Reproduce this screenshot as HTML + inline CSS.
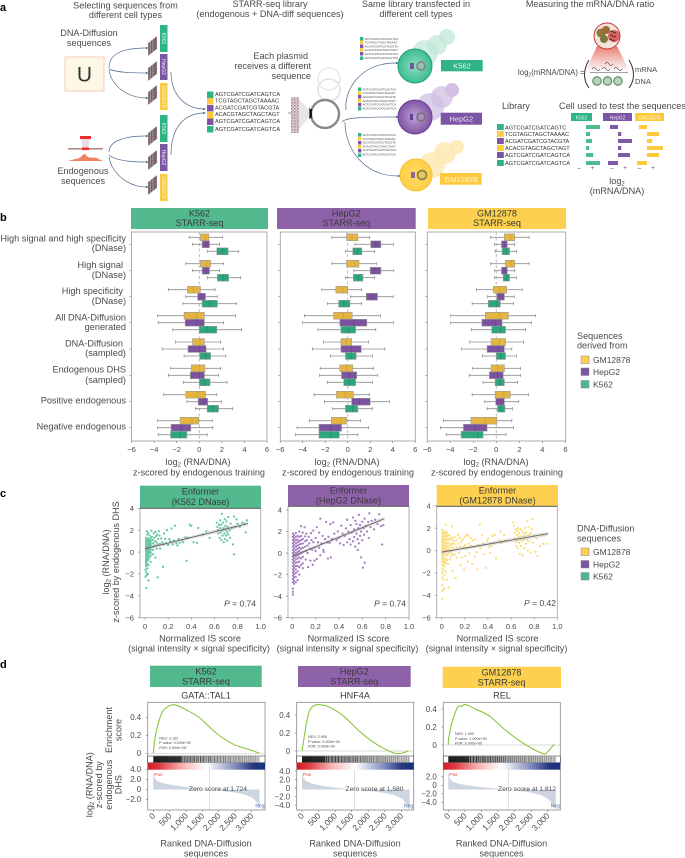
<!DOCTYPE html>
<html lang="en">
<head>
<meta charset="utf-8">
<title>DNA-Diffusion STARR-seq figure</title>
<style>
html,body{margin:0;padding:0;background:#fff;}
svg{display:block;font-family:"Liberation Sans",sans-serif;}
text{fill:#4a4a4a;}
.t9{font-size:9.1px;}
.t8{font-size:9.1px;}
.lg{font-size:8.5px;}
.mid{text-anchor:middle;}
.end{text-anchor:end;}
.seq{font-size:5.6px;fill:#333;}
.mini{font-size:2.9px;fill:#444;}
.cap{font-size:9.1px;fill:#3a3a3a;text-anchor:middle;}
.panel{font-size:11px;font-weight:bold;fill:#000;}
.vert{font-size:5px;fill:#e8f3ee;text-anchor:middle;}
</style>
</head>
<body>
<svg id="figure" width="685" height="858" viewBox="0 0 685 858" xmlns="http://www.w3.org/2000/svg">
<defs>
<pattern id="tile" width="2.6" height="2.6" patternUnits="userSpaceOnUse"><rect width="2.6" height="2.6" fill="#666"/><rect x="0.3" y="0.3" width="1" height="1" fill="#b5404a"/><rect x="1.6" y="1.5" width="0.8" height="0.8" fill="#999"/></pattern>
<pattern id="tile2" width="3" height="3" patternUnits="userSpaceOnUse"><rect width="3" height="3" fill="#ddd"/><rect x="0.2" y="0.2" width="1.2" height="1.2" fill="#b5404a"/><rect x="1.6" y="1.6" width="1.1" height="1.1" fill="#888"/></pattern>
<g id="seq-stack">
<polygon points="-5,-3 -1,-6 -1,7 -5,10" fill="url(#tile)" stroke="#fff" stroke-width="0.3"/>
<polygon points="-2.5,-5 1.5,-8 1.5,5 -2.5,8" fill="url(#tile)" stroke="#fff" stroke-width="0.3"/>
<polygon points="0,-7 4,-10 4,3 0,6" fill="url(#tile)" stroke="#fff" stroke-width="0.3"/>
</g>
<linearGradient id="cone" x1="0" y1="0" x2="0" y2="1"><stop offset="0" stop-color="#e2604f"/><stop offset="1" stop-color="#fff"/></linearGradient>
<linearGradient id="rankbar" x1="0" y1="0" x2="1" y2="0"><stop offset="0" stop-color="#d01c2a"/><stop offset="0.1" stop-color="#e03a40"/><stop offset="0.3" stop-color="#f6b5b5"/><stop offset="0.5" stop-color="#fff"/><stop offset="0.75" stop-color="#8089bd"/><stop offset="0.9" stop-color="#27367f"/><stop offset="1" stop-color="#17317f"/></linearGradient>
<linearGradient id="barcode" x1="0" y1="0" x2="1" y2="0"><stop offset="0" stop-color="#1c1c1c"/><stop offset="0.3" stop-color="#333"/><stop offset="0.6" stop-color="#7a7a7a"/><stop offset="1" stop-color="#a8a8a8"/></linearGradient>
<radialGradient id="cellG"><stop offset="0" stop-color="#8fdcc0"/><stop offset="1" stop-color="#3dbd92"/></radialGradient>
<radialGradient id="cellP"><stop offset="0" stop-color="#c0a2d8"/><stop offset="1" stop-color="#7f55a5"/></radialGradient>
<radialGradient id="cellY"><stop offset="0" stop-color="#ffd964"/><stop offset="1" stop-color="#ffcf47"/></radialGradient>
</defs>

<!-- PANEL A -->
<g>
<text class="panel" x="0" y="11">a</text>
<text class="t9 mid" x="125.5" y="8.5">Selecting sequences from</text>
<text class="t9 mid" x="125.5" y="18">different cell types</text>
<text class="t9 mid" x="270" y="7">STARR-seq library</text>
<text class="t9 mid" x="270" y="17">(endogenous + DNA-diff sequences)</text>
<text class="t9 mid" x="416" y="7">Same library transfected in</text>
<text class="t9 mid" x="416" y="17">different cell types</text>
<text class="t9 mid" x="590" y="7">Measuring the mRNA/DNA ratio</text>

<text class="t9 mid" x="89" y="36">DNA-Diffusion</text>
<text class="t9 mid" x="89" y="46">sequences</text>
<rect x="65" y="57" width="39" height="34" fill="#fdf7e6" stroke="#f6cdb8"/>
<text x="84.5" y="81.5" text-anchor="middle" style="font-size:21px;fill:#333">U</text>

<g>
<rect x="80" y="136" width="11" height="3" fill="#ee2a2a"/>
<polygon points="81,139 90,139 88.5,148 82.5,148" fill="#e6dfe8"/>
<rect x="68" y="148" width="35" height="1.6" fill="#b08a80"/>
<rect x="82" y="147.5" width="7" height="2.6" fill="#ee3030"/>
<path d="M68,161 C74,159 78,159 81,157 C83,154 85,153 86,155 C88,159 94,157 97,158 C99,160 102,160 103,161 Z" fill="#f0825f"/>
</g>
<text class="t9 mid" x="83" y="174">Endogenous</text>
<text class="t9 mid" x="83" y="184">sequences</text>

<g fill="none" stroke="#50688a" stroke-width="0.7">
<path d="M109,68 C109,55 120,48 146,48"/><path d="M109,69 C115,72 130,73 146,73"/><path d="M109,70 C112,88 130,98 146,98"/>
<path d="M109,152 C109,142 122,136 146,136"/><path d="M109,155 C115,160 130,162 146,162"/><path d="M109,157 C112,175 130,187 146,187"/>
<path d="M171,72 C171,95 185,109 205,109"/><path d="M171,155 C171,130 182,113 205,113"/>
<path d="M288,113 L298,113"/>
<path d="M346,110 C344,90 360,63 396,63"/><path d="M342,122 C345,117 370,117 396,117"/><path d="M345,122 C345,150 365,176 398,176"/>
</g>
<g fill="#50688a">
<polygon points="146,46.8 146,49.2 149,48"/><polygon points="146,71.8 146,74.2 149,73"/><polygon points="146,96.8 146,99.2 149,98"/>
<polygon points="146,134.8 146,137.2 149,136"/><polygon points="146,160.8 146,163.2 149,162"/><polygon points="146,185.8 146,188.2 149,187"/>
<polygon points="203,107.8 203,110.2 206,109"/><polygon points="203,111.8 203,114.2 206,113"/>
<polygon points="396,61.8 396,64.2 399,63"/><polygon points="396,115.8 396,118.2 399,117"/><polygon points="398,174.8 398,177.2 401,176"/>
</g>
<use href="#seq-stack" x="153" y="46"/>
<use href="#seq-stack" x="153" y="71"/>
<use href="#seq-stack" x="153" y="95"/>
<use href="#seq-stack" x="153" y="136"/>
<use href="#seq-stack" x="153" y="160"/>
<use href="#seq-stack" x="153" y="185"/>
<rect x="160" y="25" width="7.5" height="27" fill="#2fb585"/>
<rect x="160" y="54" width="7.5" height="26" fill="#7d55a5"/>
<rect x="160" y="83" width="7.5" height="27" fill="#fdc93f"/>
<rect x="160" y="115" width="7.5" height="27" fill="#2fb585"/>
<rect x="160" y="144" width="7.5" height="27" fill="#7d55a5"/>
<rect x="160" y="174" width="7.5" height="27" fill="#fdc93f"/>
<text class="vert" transform="translate(162,38.5) rotate(90)">K562</text>
<text class="vert" transform="translate(162,67) rotate(90)">HepG2</text>
<text class="vert" transform="translate(162,96.5) rotate(90)">GM12878</text>
<text class="vert" transform="translate(162,128.5) rotate(90)">K562</text>
<text class="vert" transform="translate(162,157.5) rotate(90)">HepG2</text>
<text class="vert" transform="translate(162,187.5) rotate(90)">GM12878</text>

<g>
<rect x="207" y="91.5" width="6.5" height="6.5" fill="#2fb585"/><rect x="207" y="98" width="6.5" height="6.5" fill="#fdc93f"/><rect x="207" y="105" width="6.5" height="6.5" fill="#7d55a5"/><rect x="207" y="112" width="6.5" height="6.5" fill="#fdc93f"/><rect x="207" y="118.5" width="6.5" height="6.5" fill="#7d55a5"/><rect x="207" y="126" width="6.5" height="6.5" fill="#2fb585"/>
<text class="seq" x="215" y="96">AGTCGATCGATCAGTCA</text>
<text class="seq" x="215" y="102.5">TCGTAGCTAGCTAAAAC</text>
<text class="seq" x="215" y="109.5">ACGATCGATCGTACGTA</text>
<text class="seq" x="215" y="116">ACACGTAGCTAGCTAGT</text>
<text class="seq" x="215" y="123">AGTCGATCGATCAGTCA</text>
<text class="seq" x="215" y="131">AGTCGATCGATCAGTCA</text>
</g>
<text class="t9 end" x="308" y="59">Each plasmid</text>
<text class="t9 end" x="311" y="69">receives a different</text>
<text class="t9 end" x="311" y="79">sequence</text>
<g>
<polygon points="298,98 298,130 311,115 311,112" fill="#e6e6e6"/>
<rect x="291" y="97" width="8" height="36" fill="url(#tile2)"/>
<circle cx="329" cy="90" r="11" fill="none" stroke="#e4e4e4" stroke-width="1.8"/>
<circle cx="329" cy="79" r="11" fill="none" stroke="#ececec" stroke-width="1.8"/>
<circle cx="325" cy="114" r="14" fill="#fff" stroke="#8a8a8a" stroke-width="2.4"/>
<rect x="309.5" y="109" width="2.4" height="9" fill="#111"/>
<rect x="309" y="108" width="1" height="11" fill="#d23838"/>
</g>

<g>
<circle cx="447" cy="37" r="8" fill="#bfe7d6" opacity=".75"/><circle cx="437" cy="45" r="10" fill="#bfe7d6" opacity=".7"/><circle cx="425" cy="53" r="13" fill="#bfe7d6" opacity=".7"/>
<circle cx="415" cy="66" r="17" fill="url(#cellG)" stroke="#1d9e70" stroke-width="1"/>
<rect x="410" y="63" width="4" height="6" fill="#6d5a96"/><circle cx="421" cy="66" r="4" fill="#8cc7ac" stroke="#888" stroke-width="1.8"/>
</g>
<g>
<circle cx="452" cy="90" r="7" fill="#c7b1dc" opacity=".8"/><circle cx="442" cy="97" r="11" fill="#d0bfe2" opacity=".75"/><circle cx="430" cy="107" r="14" fill="#d0bfe2" opacity=".75"/>
<circle cx="415" cy="117" r="17" fill="url(#cellP)" stroke="#6a3f94" stroke-width="1"/>
<rect x="410" y="114" width="3" height="6" fill="#5c4290"/><circle cx="421" cy="117" r="4" fill="#a98cc4" stroke="#777" stroke-width="1.8"/>
</g>
<g>
<circle cx="457" cy="147" r="7" fill="#fde9ae" opacity=".85"/><circle cx="445" cy="153" r="11" fill="#fde9ae" opacity=".8"/><circle cx="432" cy="165" r="13" fill="#fde9ae" opacity=".8"/>
<circle cx="416" cy="175" r="16" fill="url(#cellY)" stroke="#f3bf2e" stroke-width="1"/>
<rect x="411" y="172" width="4" height="6" fill="#8a6a9a"/><circle cx="422" cy="175" r="4.5" fill="#e8c860" stroke="#8f8350" stroke-width="1.8"/>
</g>
<rect x="441" y="60" width="41.7" height="11.3" fill="#2fb585"/>
<text class="mid" x="462" y="68.5" style="font-size:7.5px;fill:#e9f6f0">K562</text>
<rect x="440.7" y="112.7" width="41.3" height="12" fill="#7d55a5"/>
<text class="mid" x="461.3" y="121.5" style="font-size:7.5px;fill:#eee6f5">HepG2</text>
<rect x="440" y="173" width="41.7" height="11.7" fill="#fdc93f"/>
<text class="mid" x="461" y="181.8" style="font-size:7.5px;fill:#fff5d4">GM12878</text>

<g>
<rect x="360" y="37" width="3.3" height="3.5" fill="#2fb585"/><rect x="360" y="40.5" width="3.3" height="3.5" fill="#fdc93f"/><rect x="360" y="44.5" width="3.3" height="3.5" fill="#7d55a5"/><rect x="360" y="48" width="3.3" height="3.5" fill="#fdc93f"/><rect x="360" y="52" width="3.3" height="3.5" fill="#7d55a5"/><rect x="360" y="56.5" width="3.3" height="3.5" fill="#2fb585"/>
<text class="mini" x="364.5" y="39.8">AGTCGATCGATCAGTCA</text><text class="mini" x="364.5" y="43.6">TCGTAGCTAGCTAAAAC</text><text class="mini" x="364.5" y="47.4">ACGATCGATCGTACGTA</text><text class="mini" x="364.5" y="51.2">ACACGTAGCTAGCTAGT</text><text class="mini" x="364.5" y="55">AGTCGATCGATCAGTCA</text><text class="mini" x="364.5" y="59.2">AGTCGATCGATCAGTCA</text>
</g>
<g>
<rect x="358" y="87.5" width="3.3" height="3.5" fill="#2fb585"/><rect x="358" y="91.5" width="3.3" height="3.5" fill="#fdc93f"/><rect x="358" y="95" width="3.3" height="3.5" fill="#7d55a5"/><rect x="358" y="99" width="3.3" height="3.5" fill="#fdc93f"/><rect x="358" y="103" width="3.3" height="3.5" fill="#7d55a5"/><rect x="358" y="107" width="3.3" height="3.5" fill="#2fb585"/>
<text class="mini" x="362.5" y="90.4">AGTCGATCGATCAGTCA</text><text class="mini" x="362.5" y="94.2">TCGTAGCTAGCTAAAAC</text><text class="mini" x="362.5" y="98">ACGATCGATCGTACGTA</text><text class="mini" x="362.5" y="101.8">ACACGTAGCTAGCTAGT</text><text class="mini" x="362.5" y="105.6">AGTCGATCGATCAGTCA</text><text class="mini" x="362.5" y="109.6">AGTCGATCGATCAGTCA</text>
</g>
<g>
<rect x="358" y="133" width="3.3" height="3.5" fill="#2fb585"/><rect x="358" y="137" width="3.3" height="3.5" fill="#fdc93f"/><rect x="358" y="141" width="3.3" height="3.5" fill="#7d55a5"/><rect x="358" y="145" width="3.3" height="3.5" fill="#fdc93f"/><rect x="358" y="149" width="3.3" height="3.5" fill="#7d55a5"/><rect x="358" y="153.5" width="3.3" height="3.5" fill="#2fb585"/>
<text class="mini" x="362.5" y="136">AGTCGATCGATCAGTCA</text><text class="mini" x="362.5" y="139.8">TCGTAGCTAGCTAAAAC</text><text class="mini" x="362.5" y="143.6">ACGATCGATCGTACGTA</text><text class="mini" x="362.5" y="147.4">ACACGTAGCTAGCTAGT</text><text class="mini" x="362.5" y="151.2">AGTCGATCGATCAGTCA</text><text class="mini" x="362.5" y="155.4">AGTCGATCGATCAGTCA</text>
</g>

<g>
<polygon points="597,46 617,46 630,72 585,72" fill="url(#cone)" opacity=".8"/>
<circle cx="607" cy="36" r="13" fill="#f3e3d8" stroke="#c8353d" stroke-width="1"/>
<circle cx="601" cy="33" r="4.5" fill="#8a7a3e"/><circle cx="606" cy="30" r="4" fill="#a06a38"/><circle cx="604" cy="39" r="4" fill="#80763e"/>
<circle cx="614" cy="36" r="6" fill="#d03a3a" opacity=".75"/>
<path d="M610,32 q2,-2 3,0 t3,0 M610,36 q2,-2 3,0 t3,0 M609,40 q2,-2 3,0 t3,0" fill="none" stroke="#222" stroke-width=".7"/>
<path d="M589,60 C583,70 583,80 589,88 M629,60 C635,70 635,80 629,88" fill="none" stroke="#333" stroke-width="1"/>
<line x1="590" y1="72.5" x2="628" y2="72.5" stroke="#444" stroke-width=".6"/>
<path d="M592,69 q2,-3 4,0 t4,0 M602,69 q2,-3 4,0 t4,0 M614,69 q2,-3 4,0 t4,0 M605,64 q2,-3 4,0 t4,0" fill="none" stroke="#333" stroke-width=".6"/>
<circle cx="597" cy="81" r="4.2" fill="#b6d4b8" stroke="#6f8f78" stroke-width="1.3"/><circle cx="607.5" cy="81" r="4.2" fill="#b6d4b8" stroke="#6f8f78" stroke-width="1.3"/><circle cx="618" cy="81" r="4.2" fill="#b6d4b8" stroke="#6f8f78" stroke-width="1.3"/>
</g>
<text x="518" y="75" style="font-size:7.8px">log<tspan font-size="5" dy="1.5">2</tspan><tspan dy="-1.5">(mRNA/DNA) =</tspan></text>
<text x="635" y="72" style="font-size:7.5px">mRNA</text>
<text x="635" y="84" style="font-size:7.5px">DNA</text>
<text class="t9" x="502" y="109">Library</text>
<text class="t9" x="559" y="109">Cell used to test the sequences</text>
<rect x="571" y="113" width="21" height="8" fill="#2fb585"/>
<rect x="603" y="113" width="29" height="8" fill="#7d55a5"/>
<rect x="635" y="113" width="29" height="8" fill="#fdc93f"/>
<text class="mid" x="581.5" y="119.5" style="font-size:5px;fill:#e4f5ee">K562</text>
<text class="mid" x="617.5" y="119.5" style="font-size:5px;fill:#eee6f5">HepG2</text>
<text class="mid" x="649.5" y="119.5" style="font-size:5px;fill:#fff3cc">GM12878</text>
<g>
<rect x="497" y="124" width="6.8" height="6" fill="#2fb585"/><rect x="497" y="131" width="6.8" height="6" fill="#fdc93f"/><rect x="497" y="138" width="6.8" height="6" fill="#7d55a5"/><rect x="497" y="145" width="6.8" height="6" fill="#fdc93f"/><rect x="497" y="152" width="6.8" height="6" fill="#7d55a5"/><rect x="497" y="160" width="6.8" height="6" fill="#2fb585"/>
<text class="seq" x="505" y="129.5">AGTCGATCGATCAGTC</text>
<text class="seq" x="505" y="136">TCGTAGCTAGCTAAAAC</text>
<text class="seq" x="505" y="143">ACGATCGATCGTACGTA</text>
<text class="seq" x="505" y="150">ACACGTAGCTAGCTAGT</text>
<text class="seq" x="505" y="157">AGTCGATCGATCAGTCA</text>
<text class="seq" x="505" y="165">AGTCGATCGATCAGTCA</text>
</g>
<g id="mini-bars"></g>
<text class="mid" x="579" y="170" style="font-size:6px">–</text><text class="mid" x="592.5" y="170" style="font-size:6px">+</text>
<text class="mid" x="612" y="170" style="font-size:6px">–</text><text class="mid" x="625" y="170" style="font-size:6px">+</text>
<text class="mid" x="639.5" y="170" style="font-size:6px">–</text><text class="mid" x="653" y="170" style="font-size:6px">+</text>
<text class="t9 mid" x="617" y="184">log<tspan font-size="6" dy="1.5">2</tspan></text>
<text class="t9 mid" x="617" y="194">(mRNA/DNA)</text>
</g>

<!-- PANEL B static -->
<g>
<text class="panel" x="0" y="221">b</text>
<rect x="131" y="208" width="137" height="21" fill="#52b98f"/>
<rect x="277" y="208" width="138.7" height="21" fill="#8e62a9"/>
<rect x="428" y="208" width="138" height="21" fill="#fdd04f"/>
<text class="cap" x="199.5" y="216.5">K562</text><text class="cap" x="199.5" y="226">STARR-seq</text>
<text class="cap" x="346.3" y="216.5">HepG2</text><text class="cap" x="346.3" y="226">STARR-seq</text>
<text class="cap" x="497" y="216.5">GM12878</text><text class="cap" x="497" y="226">STARR-seq</text>
<g class="t8" text-anchor="end" style="font-size:9.2px">
<text x="126" y="241.7">High signal and high specificity</text><text x="126" y="251">(DNase)</text>
<text x="123" y="268">High signal</text><text x="126" y="278">(DNase)</text>
<text x="123" y="294">High specificity</text><text x="126" y="304">(DNase)</text>
<text x="126" y="320.3">All DNA-Diffusion</text><text x="126" y="330">generated</text>
<text x="123" y="346.7">DNA-Diffusion</text><text x="126" y="356">(sampled)</text>
<text x="126" y="372.7">Endogenous DHS</text><text x="126" y="383">(sampled)</text>
<text x="126" y="403.7">Positive endogenous</text>
<text x="126" y="429.7">Negative endogenous</text>
</g>
<g id="box-plots"></g>
<g class="cap">
<text x="198" y="465">log<tspan font-size="6" dy="1.5">2</tspan><tspan dy="-1.5"> (RNA/DNA)</tspan></text><text x="199" y="475.5">z-scored by endogenous training</text>
<text x="347" y="465">log<tspan font-size="6" dy="1.5">2</tspan><tspan dy="-1.5"> (RNA/DNA)</tspan></text><text x="348" y="475.5">z-scored by endogenous training</text>
<text x="496" y="465">log<tspan font-size="6" dy="1.5">2</tspan><tspan dy="-1.5"> (RNA/DNA)</tspan></text><text x="497" y="475.5">z-scored by endogenous training</text>
</g>
<text class="t8" x="577" y="339">Sequences</text>
<text class="t8" x="577" y="348.5">derived from</text>
<rect x="581" y="356" width="8" height="7.5" fill="#fdd04f" stroke="#888" stroke-width=".5"/>
<rect x="581" y="368" width="8" height="7.5" fill="#7f55a5" stroke="#888" stroke-width=".5"/>
<rect x="581" y="380.5" width="8" height="7.5" fill="#4db88c" stroke="#888" stroke-width=".5"/>
<text class="lg" x="593" y="362.8">GM12878</text>
<text class="lg" x="593" y="375">HepG2</text>
<text class="lg" x="593" y="387.3">K562</text>
</g>

<!-- PANEL C static -->
<g>
<text class="panel" x="0" y="497">c</text>
<rect x="140" y="485.7" width="121" height="22.6" fill="#52b98f"/>
<rect x="288" y="485" width="121" height="21.3" fill="#8e62a9"/>
<rect x="436.7" y="485" width="121.3" height="21.3" fill="#fdd04f"/>
<text class="cap" x="200.5" y="494.5">Enformer</text><text class="cap" x="200.5" y="505">(K562 DNase)</text>
<text class="cap" x="348.5" y="493.5">Enformer</text><text class="cap" x="348.5" y="503.5">(HepG2 DNase)</text>
<text class="cap" x="497.5" y="493.5">Enformer</text><text class="cap" x="497.5" y="503.5">(GM12878 DNase)</text>
<g id="scatters"></g>
<text class="t8 mid" transform="translate(109,562) rotate(-90)">log<tspan font-size="6" dy="1.5">2</tspan><tspan dy="-1.5"> (RNA/DNA)</tspan></text>
<text class="t8 mid" transform="translate(119,562) rotate(-90)">z-scored by endogenous DHS</text>
<g class="cap">
<text x="200" y="641.7">Normalized IS score</text><text x="199" y="651.7">(signal intensity × signal specificity)</text>
<text x="348.5" y="641.7">Normalized IS score</text><text x="347.5" y="651.7">(signal intensity × signal specificity)</text>
<text x="497.5" y="641.7">Normalized IS score</text><text x="496.5" y="651.7">(signal intensity × signal specificity)</text>
</g>
<text class="lg end" x="256" y="606.7"><tspan font-style="italic">P</tspan> = 0.74</text>
<text class="lg end" x="406" y="606.7"><tspan font-style="italic">P</tspan> = 0.74</text>
<text class="lg end" x="556" y="606"><tspan font-style="italic">P</tspan> = 0.42</text>
<text class="t8" x="577" y="531.7">DNA-Diffusion</text>
<text class="t8" x="577" y="541.7">sequences</text>
<rect x="581" y="548" width="8" height="7.5" fill="#fdd04f" stroke="#888" stroke-width=".5"/>
<rect x="581" y="560.5" width="8" height="7.5" fill="#7f55a5" stroke="#888" stroke-width=".5"/>
<rect x="581" y="572.5" width="8" height="7.5" fill="#4db88c" stroke="#888" stroke-width=".5"/>
<text class="lg" x="593" y="555">GM12878</text>
<text class="lg" x="593" y="567.3">HepG2</text>
<text class="lg" x="593" y="579.3">K562</text>
</g>

<!-- PANEL D static -->
<g>
<text class="panel" x="0" y="668">d</text>
<rect x="150" y="665.7" width="111.7" height="21.3" fill="#52b98f"/>
<rect x="298" y="666" width="112.7" height="21" fill="#8e62a9"/>
<rect x="442.7" y="666.7" width="118.3" height="21.3" fill="#fdd04f"/>
<text class="cap" x="206" y="674.5">K562</text><text class="cap" x="206" y="684.5">STARR-seq</text>
<text class="cap" x="354.3" y="674.5">HepG2</text><text class="cap" x="354.3" y="684.5">STARR-seq</text>
<text class="cap" x="501.5" y="675.5">GM12878</text><text class="cap" x="501.5" y="685.5">STARR-seq</text>
<text class="cap" x="206" y="698.3">GATA::TAL1</text>
<text class="cap" x="355" y="698.3">HNF4A</text>
<text class="cap" x="502" y="698.3">REL</text>
<g id="gsea"></g>
<text class="t8 mid" transform="translate(112,730) rotate(-90)">Enrichment</text>
<text class="t8 mid" transform="translate(121.5,730) rotate(-90)">score</text>
<text class="t8 mid" transform="translate(92.7,784.7) rotate(-90)">log<tspan font-size="6" dy="1.5">2</tspan><tspan dy="-1.5"> (RNA/DNA)</tspan></text>
<text class="t8 mid" transform="translate(102,784.7) rotate(-90)">z-scored by</text>
<text class="t8 mid" transform="translate(112,784.7) rotate(-90)">endogenous</text>
<text class="t8 mid" transform="translate(121.5,784.7) rotate(-90)">DHS</text>
<g class="cap">
<text x="206" y="846.7">Ranked DNA-Diffusion</text><text x="206" y="856.7">sequences</text>
<text x="355" y="846.7">Ranked DNA-Diffusion</text><text x="355" y="856.7">sequences</text>
<text x="501.5" y="846.7">Ranked DNA-Diffusion</text><text x="501.5" y="856.7">sequences</text>
</g>
</g>
</svg>
<script>
/* ---------- mini bar chart (panel a) ---------- */
const miniK562 = [3.5, 1, 1.5, 0.8, 1.8, 3.5];
const miniHepG2 = [-2, 0.8, 3.5, 0.8, 3, -2.5];
const miniGM12878 = [-2, 3, 1.3, 4, 3, -2.5];

/* ---------- box plots (panel b): rows of [low whisker, q1, median, q3, high whisker]
   in the order GM12878, HepG2, K562 ---------- */
const boxTickValues = [-6, -4, -2, 0, 2, 4, 6];
const boxTickLabels = ['−6', '−4', '−2', '0', '2', '4', '6'];
const boxK562 = [
 [[-0.9,0.1,0.5,0.85,2.05],[-0.6,0.25,0.65,0.9,1.8],[0.7,1.55,2.05,2.55,3.5]],
 [[-1.2,0.1,0.65,1.0,2.15],[-0.6,0.25,0.6,0.9,1.8],[0.7,1.6,2.1,2.6,3.65]],
 [[-2.75,-1.05,-0.5,0.1,1.4],[-1.2,-0.15,0.2,0.55,1.6],[-1.45,0.25,0.95,1.6,3.3]],
 [[-3.7,-1.35,-0.25,0.45,3.2],[-3.65,-1.25,-0.2,0.45,2.15],[-2.35,0,0.7,1.55,3.75]],
 [[-2.1,-0.6,0.05,0.45,1.9],[-3.3,-1,0,0.6,2.15],[-1.35,0.05,0.6,1.0,2.35]],
 [[-2.55,-0.7,0,0.5,1.9],[-2.75,-0.8,0,0.45,1.7],[-1.4,0,0.45,0.95,2.45]],
 [[-3.15,-1.2,-0.1,0.55,1.55],[-1.1,-0.1,0.4,0.75,1.95],[-0.35,0.7,1.2,1.7,2.95]],
 [[-3.7,-1.7,-0.65,-0.05,1.15],[-3.7,-2.5,-1.6,-0.75,1.2],[-3.65,-2.55,-1.7,-1.1,0.7]]
];
const boxHepG2 = [
 [[-1.4,-0.1,0.4,0.9,1.95],[0.65,2.05,2.5,2.95,4.05],[-0.2,0.45,0.9,1.25,2.4]],
 [[-1.4,-0.1,0.6,1,2.55],[0.55,2,2.4,2.95,4.05],[-0.2,0.5,0.95,1.35,2.4]],
 [[-2.3,-1.05,-0.45,0,1.25],[0.25,1.65,2.1,2.65,4.05],[-1.8,-0.8,-0.35,0.2,1.25]],
 [[-3.85,-1.25,-0.4,0.4,2.9],[-4,-0.7,0.55,1.7,4.05],[-2.65,-0.6,0.1,0.7,2.5]],
 [[-2.15,-0.6,-0.1,0.35,1.85],[-3.15,-0.6,0.3,1.2,3.3],[-1.55,-0.2,0.3,0.75,2.2]],
 [[-2.45,-0.7,-0.1,0.45,2.3],[-2.5,-0.55,0.1,0.8,2.65],[-1.8,-0.35,0.15,0.7,2.2]],
 [[-3,-1,-0.25,0.5,1.95],[-2.05,0.35,1.05,2,3.7],[-1.35,-0.2,0.45,0.9,2.2]],
 [[-3.4,-1.45,-0.6,-0.1,1.15],[-4.5,-2.55,-1.5,-0.55,1.85],[-4.65,-2.55,-1.5,-0.75,0.9]]
];
const boxGM12878 = [
 [[-0.5,0.7,1.25,1.6,2.85],[-0.15,0.45,0.7,0.95,1.6],[-0.1,0.5,0.85,1.15,1.75]],
 [[-0.5,0.8,1.3,1.6,2.85],[-0.15,0.45,0.75,0.95,1.6],[-0.15,0.6,0.9,1.15,1.75]],
 [[-1.7,-0.25,0.3,0.9,2.25],[-0.75,0.05,0.3,0.7,1.55],[-2.1,-0.7,0.05,0.35,1.5]],
 [[-3.95,-0.95,0.3,1.05,3.4],[-3.95,-1.25,-0.1,0.5,3.05],[-2.15,-0.4,0.35,0.8,2.55]],
 [[-2.3,-0.45,0.25,0.8,2.35],[-3,-0.8,0.15,0.7,1.35],[-1.2,0,0.4,0.8,1.75]],
 [[-2.05,-0.45,0.15,0.7,2.1],[-2.35,-0.6,0.1,0.6,2.1],[-1.15,-0.1,0.35,0.7,1.85]],
 [[-2.1,-0.1,0.65,1.2,2.8],[-1,-0.05,0.4,0.7,1.95],[-0.8,0.1,0.4,0.75,1.4]],
 [[-4.6,-2.2,-0.95,0.05,1.35],[-4.85,-2.85,-1.85,-0.8,1.5],[-4.35,-3.05,-1.6,-1.15,0.85]]
];

/* ---------- scatter plots (panel c): flat x,y pairs ---------- */
const scatterXTicks = [0, 0.2, 0.4, 0.6, 0.8, 1];
const scatterXLabels = ['0', '0.2', '0.4', '0.6', '0.8', '1.0'];
const scatterYTicks = [4, 2, 0, -2, -4, -6];
const scatterYLabels = ['4', '2', '0', '−2', '−4', '−6'];
const fitK562 = [0.3, 2.6];
const fitHepG2 = [-0.3, 3.2];
const fitGM12878 = [-0.15, 1.5];
const scatterK562 = [
0.01,1.3,0.01,1.1,0.01,0.95,0.01,0.8,0.01,0.65,0.01,0.5,0.01,0.35,0.01,0.2,0.01,0.05,0.01,-0.1,0.01,-0.25,0.01,-0.4,0.01,-0.55,0.01,-0.7,0.01,-0.85,0.01,-1.0,0.01,-1.15,0.01,-1.3,
0.02,1.25,0.02,1.05,0.02,0.9,0.02,0.75,0.02,0.6,0.02,0.45,0.02,0.3,0.02,0.15,0.02,0,0.02,-0.15,0.02,-0.3,0.02,-0.45,0.02,-0.6,0.02,-0.8,0.02,-1.1,0.02,-1.5,0.005,-1.6,0.01,-1.85,0.015,-2.1,0.005,-2.25,0.01,-3.3,0.03,-2.6,0.025,-2.0,
0.03,1.2,0.03,1.0,0.03,0.85,0.03,0.7,0.03,0.55,0.03,0.4,0.03,0.25,0.03,0.1,0.03,-0.05,0.03,-0.2,0.03,-0.4,0.03,-0.7,0.03,-1.2,
0.04,1.15,0.04,1.0,0.04,0.8,0.04,0.6,0.04,0.45,0.04,0.3,0.04,0.1,0.04,-0.1,0.04,-0.5,
0.05,1.3,0.05,1.05,0.05,0.85,0.05,0.65,0.05,0.45,0.05,0.2,0.05,-0.05,0.05,-0.3,0.05,-0.9,
0.015,1.9,0.02,1.6,0.03,1.75,0.04,1.5,0.055,1.95,0.06,1.4,0.065,1.1,0.07,0.8,0.07,0.5,0.07,0.2,0.07,-0.2,0.075,1.7,0.08,1.3,0.085,1.0,0.085,0.6,0.09,1.85,0.09,-0.5,0.095,1.45,0.1,0.9,0.1,0.3,0.105,1.6,0.11,0.7,0.11,-2.3,0.115,1.2,0.12,1.9,0.125,1.5,0.13,0.75,0.13,0.3,0.14,1.25,0.15,0.9,0.155,-1.35,0.16,0.7,0.165,1.7,0.175,1.2,0.18,0.8,0.19,2.0,0.2,0.65,0.21,1.2,0.22,1.0,0.23,2.15,0.24,0.7,0.25,1.05,0.26,2.4,0.27,0.8,0.28,0.6,0.29,1.2,0.3,0.85,0.32,1.1,0.33,0.9,0.35,1.35,0.36,-0.8,0.37,1.3,0.385,2.5,0.4,2.4,0.42,0.9,0.45,0.85,0.46,2.2,0.5,1.6,0.53,1.9,0.56,1.3,
0.62,2.7,0.625,2.3,0.63,2.0,0.635,1.7,0.64,2.5,0.645,1.3,0.65,2.9,0.65,2.2,0.655,1.8,0.66,1.1,0.66,2.5,0.665,3.5,0.67,2.0,0.67,1.5,0.675,2.7,0.68,0.9,0.68,2.2,0.685,1.7,0.69,3.0,0.69,1.2,0.695,2.4,0.7,2.0,0.7,1.5,0.705,2.8,0.71,1.8,0.71,1.05,0.715,2.3,0.72,3.2,0.72,1.6,0.73,2.0,0.735,1.3,0.74,2.6,0.75,2.2,0.76,0.7,0.77,3.25,0.77,-0.2,0.78,2.3,0.79,3.0,0.8,2.6,0.82,2.3,0.84,2.7,0.86,2.6,0.87,1.8,0.88,2.9
];
const scatterHepG2 = [
0.005,1.8,0.005,1.5,0.005,1.2,0.005,0.9,0.005,0.6,0.005,0.3,0.005,0,0.005,-0.3,0.005,-0.6,0.005,-0.9,0.005,-1.2,0.005,-1.5,0.005,-1.8,0.005,-2.1,0.005,-2.4,0.005,-2.7,0.005,-3.3,0.005,-3.6,0.005,-3.85,
0.015,1.65,0.015,1.35,0.015,1.05,0.015,0.75,0.015,0.45,0.015,0.15,0.015,-0.15,0.015,-0.45,0.015,-0.75,0.015,-1.05,0.015,-1.35,0.015,-1.65,0.015,-1.95,0.015,-2.25,0.015,-2.55,0.015,-2.85,
0.03,1.85,0.03,1.5,0.03,1.2,0.03,0.9,0.03,0.6,0.03,0.3,0.03,0,0.03,-0.3,0.03,-0.6,0.03,-0.9,0.03,-1.2,0.03,-1.5,0.03,-1.85,0.03,-2.2,0.03,-2.7,
0.045,1.6,0.045,1.25,0.045,1.0,0.045,0.7,0.045,0.4,0.045,0.1,0.045,-0.2,0.045,-0.5,0.045,-0.85,0.045,-1.2,0.045,-1.7,0.045,-2.5,
0.06,2.0,0.06,1.5,0.06,1.1,0.06,0.8,0.06,0.5,0.06,0.2,0.06,-0.1,0.06,-0.4,0.06,-0.8,0.06,-1.3,0.06,-2.0,
0.075,2.5,0.075,1.6,0.075,1.2,0.075,0.85,0.075,0.4,0.075,0,0.075,-0.5,0.075,-1.1,
0.09,1.9,0.09,1.3,0.09,0.9,0.09,0.5,0.09,0.1,0.09,-0.35,0.09,-0.95,0.09,-1.4,
0.105,2.4,0.11,1.55,0.11,1.1,0.11,0.6,0.115,0.2,0.115,-0.6,0.12,1.8,0.125,1.2,0.13,0.7,0.13,0,0.135,-1.3,0.14,1.5,0.145,0.9,0.15,0.4,0.155,-0.7,0.16,1.85,0.165,1.2,0.17,0.3,0.175,-1.1,0.18,2.1,0.18,1.0,0.19,0.5,0.19,-0.7,0.2,1.4,0.2,0.2,0.21,2.4,0.21,-0.55,0.22,1.0,0.23,1.9,0.23,0.5,0.24,3.2,0.24,-0.2,0.25,0.9,0.26,1.6,0.265,0.3,0.27,0.1,0.28,1.3,0.29,2.9,0.3,1.0,0.305,-0.5,0.31,1.5,0.32,0.95,0.325,2.7,0.33,-0.4,0.34,1.3,0.35,2.85,0.36,1.8,0.38,1.2,0.39,2.0,0.4,1.4,0.41,0.9,0.42,2.55,0.43,1.8,0.44,0.75,0.45,1.6,0.46,2.3,0.47,1.0,0.47,3.1,0.48,2.0,0.49,1.3,0.5,2.6,0.5,0.8,0.51,1.9,0.52,3.3,0.52,1.1,0.53,2.2,0.53,1.5,0.54,0.6,0.54,3.0,0.55,2.7,0.55,1.8,0.56,1.3,0.56,0.3,0.565,2.3,0.57,3.55,0.57,0.9,0.58,1.6,0.58,2.6,0.59,2.0,0.59,-0.4,0.6,2.9,0.6,1.2,0.605,-1.35,0.61,2.3,0.615,1.7,0.62,3.2,0.62,-0.9,0.63,2.5,0.64,2.0,0.65,2.9,0.655,1.4,0.66,3.7,0.67,2.4,0.68,3.0,0.7,2.2,0.71,3.1,0.73,2.7,0.745,3.6,0.76,2.5,0.77,0.8,0.78,2.6
];
const scatterGM12878 = [
0.005,1.85,0.005,1.55,0.005,1.25,0.005,1.0,0.005,0.75,0.005,0.5,0.005,0.25,0.005,0,0.005,-0.25,0.005,-0.5,0.005,-0.75,0.005,-1.0,0.005,-1.3,0.005,-1.6,0.005,-2.0,0.005,-2.4,0.005,-3.1,0.005,-3.6,0.005,-4.3,
0.015,1.7,0.015,1.4,0.015,1.1,0.015,0.85,0.015,0.6,0.015,0.35,0.015,0.1,0.015,-0.15,0.015,-0.4,0.015,-0.65,0.015,-0.9,0.015,-1.2,0.015,-1.75,0.015,-2.6,0.015,-3.5,
0.025,1.6,0.025,1.3,0.025,1.0,0.025,0.7,0.025,0.4,0.025,0.15,0.025,-0.1,0.025,-0.4,0.025,-0.7,0.025,-1.0,0.025,-1.4,0.025,-2.2,0.025,-3.4,
0.035,2.3,0.035,1.5,0.035,1.2,0.035,0.9,0.035,0.55,0.035,0.25,0.035,-0.05,0.035,-0.35,0.035,-0.75,0.035,-1.1,0.035,-1.9,
0.045,1.65,0.045,1.3,0.045,1.0,0.045,0.65,0.045,0.3,0.045,0,0.045,-0.4,0.045,-0.85,0.045,-2.6,
0.055,1.4,0.055,1.05,0.055,0.7,0.055,0.4,0.055,0.05,0.055,-0.3,0.055,-1.2,0.06,-3.3,
0.07,1.3,0.07,0.95,0.07,0.6,0.07,0.25,0.07,-0.15,0.07,-0.8,0.08,1.0,0.08,0.5,0.08,0,0.08,-0.5,0.09,2.15,0.09,1.1,0.09,0.6,0.09,-0.3,0.095,-1.8,0.1,0.85,0.1,0.25,0.11,1.2,0.11,0.6,0.11,-0.4,0.12,-2.45,0.125,0.9,0.13,0.3,0.13,-0.65,0.14,1.4,0.145,0.6,0.15,-0.2,0.155,1.15,0.16,0.35,0.165,-1.3,0.17,0.8,0.175,-0.6,0.18,1.0,0.19,0.3,0.195,-1.7,0.2,1.2,0.2,0.5,0.205,-0.5,0.215,1.4,0.22,0.2,0.225,-1.0,0.23,1.3,0.235,0.6,0.24,-0.25,0.25,1.1,0.255,0.4,0.265,-1.2,0.27,0.9,0.28,0.3,0.285,-0.55,0.29,1.0,0.3,-0.15,0.31,-1.7,0.32,0.45,0.33,2.3,0.335,0.2,0.35,1.35,0.36,0.65,0.37,-0.3,0.38,-1.55,0.39,0.85,0.4,1.05,0.41,0.3,0.42,-0.2,0.43,0.4,0.44,1.3,0.45,0.65,0.46,1.4,0.47,-0.7,0.5,0.9,0.51,1.7,0.52,0.7,0.54,1.4,0.55,0.9,
0.62,2.5,0.625,2.2,0.63,1.6,0.635,1.1,0.64,1.9,0.64,0.75,0.645,0.4,0.65,1.4,0.65,0.95,0.655,1.75,0.66,2.0,0.66,0.2,0.665,1.25,0.67,0.7,0.67,1.55,0.675,-0.3,0.68,1.9,0.68,1.0,0.685,0.4,0.69,1.3,0.695,1.75,0.7,0.85,0.7,-0.4,0.71,1.55,0.71,1.05,0.715,0.2,0.72,2.0,0.72,1.3,0.73,0.6,0.73,1.6,0.74,2.6,0.74,0.95,0.745,0,0.75,1.4,0.75,2.1,0.76,0.8,0.77,1.55,0.77,-0.2,0.78,1.9,0.785,2.8,0.79,0.7,0.8,1.3,0.81,-0.1,0.82,1.05,0.83,-0.5,0.85,0.4,0.87,1.4,0.88,0.6,0.91,0.6
];

/* ---------- GSEA (panel d) ---------- */
const gseaXTicks = [0, 500, 1000, 1500, 2000, 2500, 3000];
const gseaXLabels = ['0', '500', '1,000', '1,500', '2,000', '2,500', '3,000'];
const esTicks = [0, 0.2, 0.4];
const esTickLabels = ['0', '0.2', '0.4'];
const esRanksK562 = [0, 50, 150, 275, 410, 560, 715, 1020, 1430, 1940, 2450, 2860, 3255];
const esValuesK562 = [0, 0.167, 0.33, 0.46, 0.51, 0.537, 0.533, 0.48, 0.39, 0.22, 0.1, 0.05, 0];
const esRanksHepG2 = [0, 90, 140, 220, 340, 540, 845, 1250, 1750, 2250, 2760, 3000, 3220];
const esValuesHepG2 = [0, 0.21, 0.325, 0.44, 0.5, 0.515, 0.485, 0.39, 0.215, 0.075, -0.02, -0.025, 0];
const esRanksGM12878 = [0, 10, 90, 200, 300, 400, 530, 850, 1250, 1760, 2350, 2860, 3000, 3200];
const esValuesGM12878 = [0, 0.07, 0.22, 0.35, 0.43, 0.43, 0.45, 0.395, 0.32, 0.155, 0, -0.095, -0.075, 0.01];
const metricRanks = [0, 40, 120, 300, 600, 1000, 1400, 1724, 2100, 2500, 2800, 3050, 3200, 3260];
const metricK562 = [3.6, 2.3, 1.7, 1.25, 0.85, 0.5, 0.2, 0, -0.3, -0.6, -1.0, -1.7, -2.7, -3.6];
const metricHepG2 = [3.5, 2.4, 1.7, 1.2, 0.75, 0.4, 0.05, -0.1, -0.35, -0.7, -1.1, -1.9, -3.2, -4.4];
const metricGM12878 = [3.7, 2.2, 1.6, 1.2, 0.8, 0.5, 0.2, 0.05, -0.2, -0.6, -1.1, -2.0, -3.3, -4.4];
const metricTicksK562 = [4, 2, 0, -2];
const metricLabelsK562 = ['4.0', '2.0', '0', '−2.0'];
const metricTicksHepG2 = [4, 2, 0, -2, -4];
const metricLabelsHepG2 = ['4.0', '2.0', '0', '−2.0', '−4.0'];
const metricTicksGM12878 = [2, 0, -2, -4];
const metricLabelsGM12878 = ['2.0', '0', '−2.0', '−4.0'];
const zeroRankK562 = 1724;
const zeroRankHepG2 = 1580;
const zeroRankGM12878 = 1812;
const hitsK562 = [880,910,940,985,1010,1060,1090,1120,1165,1190,1240,1280,1305,1350,1400,1420,1470,1510,1560,1600,1640,1665,1720,1770,1810,1850,1905,1940,1990,2030,2085,2120,2180,2240,2275,2330,2390,2420,2470,2530,2580,2650,2700,2760,2810,2880,2950,3020,3080,3150,3210];
const hitsHepG2 = [720,780,830,860,905,960,990,1040,1080,1130,1170,1210,1260,1300,1345,1390,1450,1500,1540,1590,1640,1700,1730,1790,1840,1900,1960,2010,2070,2130,2190,2230,2300,2360,2420,2480,2550,2610,2680,2740,2800,2860,2930,2980,3040,3110,3180];
const hitsGM12878 = [640,700,740,790,830,880,930,960,1010,1050,1110,1150,1200,1250,1310,1350,1400,1460,1520,1570,1630,1690,1750,1800,1860,1920,1970,2030,2090,2160,2220,2280,2350,2400,2470,2540,2610,2670,2730,2800,2870,2940,3000,3070,3150,3220];

/* ---------- helpers ---------- */
const NS = 'http://www.w3.org/2000/svg';
function make(tag, attrs, parent) {
  const e = document.createElementNS(NS, tag);
  for (const k in attrs) e.setAttribute(k, attrs[k]);
  parent.appendChild(e);
  return e;
}
function label(parent, x, y, str, size, anchor) {
  const e = make('text', {x: x, y: y, 'text-anchor': anchor || 'middle', style: 'font-size:' + size + 'px'}, parent);
  e.textContent = str;
  
  
  return e;
}
function smoothPath(pts) {
  let d = 'M' + pts[0][0] + ',' + pts[0][1];
  for (let i = 0; i < pts.length - 1; i++) {
    const p0 = pts[Math.max(0, i - 1)], p1 = pts[i], p2 = pts[i + 1], p3 = pts[Math.min(pts.length - 1, i + 2)];
    const c1x = p1[0] + (p2[0] - p0[0]) / 6, c1y = p1[1] + (p2[1] - p0[1]) / 6;
    const c2x = p2[0] - (p3[0] - p1[0]) / 6, c2y = p2[1] - (p3[1] - p1[1]) / 6;
    d += 'C' + c1x + ',' + c1y + ' ' + c2x + ',' + c2y + ' ' + p2[0] + ',' + p2[1];
  }
  return d;
}

/* ---------- mini bars ---------- */
(function () {
  const host = document.getElementById('mini-bars');
  const rowCenters = [127, 134, 141, 148, 155, 163];
  const groups = [
    {vals: miniK562, base: 586, color: '#4fbb90'},
    {vals: miniHepG2, base: 618, color: '#8058a8'},
    {vals: miniGM12878, base: 647, color: '#fdc93f'}
  ];
  groups.forEach(function (g) {
    g.vals.forEach(function (v, i) {
      const w = Math.abs(v) * 4;
      const x = v < 0 ? g.base - w : g.base;
      const r = make('rect', {x: x, y: rowCenters[i] - 2, width: w, height: 4, fill: g.color}, host);
      
      
    });
  });
})();

/* ---------- box panels ---------- */
(function () {
  const host = document.getElementById('box-plots');
  const rowY = [244.3, 270.7, 296.7, 322.7, 349, 375.3, 401.7, 427.7];
  const offsets = [-7, 0, 7];
  const fills = ['#e6b53f', '#7b529e', '#2ba67e'];
  const lights = ['#c9a24a', '#6a4a8a', '#2c8a6c'];
  const panels = [
    {data: boxK562, left: 131.5, right: 267, zero: 199.3, unit: 11.29, ticks: true},
    {data: boxHepG2, left: 280.3, right: 415.3, zero: 347.7, unit: 11.25, ticks: false},
    {data: boxGM12878, left: 427.3, right: 565.7, zero: 496.3, unit: 11.53, ticks: false}
  ];
  panels.forEach(function (p) {
    const top = 232, bottom = 441;
    const X = function (v) { return p.zero + v * p.unit; };
    const frame = make('rect', {x: p.left, y: top, width: p.right - p.left, height: bottom - top, fill: '#fff', stroke: '#999', 'stroke-width': 0.8}, host);
    
    
    const zero = make('line', {x1: X(0), x2: X(0), y1: top, y2: bottom, stroke: '#bbb', 'stroke-width': 1, 'stroke-dasharray': '3 2.5'}, host);
    
    
    boxTickValues.forEach(function (t, i) {
      const tk = make('line', {x1: X(t), x2: X(t), y1: bottom, y2: bottom + 2, stroke: '#777', 'stroke-width': 0.6}, host);
      
      
      label(host, X(t), 452, boxTickLabels[i], 7.6);
    });
    rowY.forEach(function (y) {
      const tk = make('line', {x1: p.left - 2, x2: p.left, y1: y, y2: y, stroke: '#777', 'stroke-width': 0.6}, host);
      
      
    });
    p.data.forEach(function (row, r) {
      row.forEach(function (b, s) {
        const y = rowY[r] + offsets[s];
        const wh = make('line', {x1: X(b[0]), x2: X(b[4]), y1: y, y2: y, stroke: '#8f8f8f', 'stroke-width': 0.8}, host);
        
        
        [b[0], b[4]].forEach(function (c) {
          const cap = make('line', {x1: X(c), x2: X(c), y1: y - 1.6, y2: y + 1.6, stroke: '#777', 'stroke-width': 0.6}, host);
          
          
        });
        const box = make('rect', {x: X(b[1]), y: y - 3.4, width: X(b[3]) - X(b[1]), height: 6.8, fill: fills[s], stroke: '#9b9b9b', 'stroke-width': 0.6}, host);
        
        
        const med = make('line', {x1: X(b[2]), x2: X(b[2]), y1: y - 3.4, y2: y + 3.4, stroke: lights[s], 'stroke-width': 0.9}, host);
        
        
      });
    });
  });
})();

/* ---------- scatter panels ---------- */
(function () {
  const host = document.getElementById('scatters');
  const panels = [
    {pts: scatterK562, fit: fitK562, fitEnd: 0.89, left: 140, right: 260.7, top: 508.3, bottom: 617.7, x0: 145, x1: 260.7, y4: 508.3, yUnit: 10.94, color: '#68c9a2'},
    {pts: scatterHepG2, fit: fitHepG2, fitEnd: 0.79, left: 288, right: 409, top: 506.3, bottom: 617.7, x0: 292.3, x1: 409, y4: 510, yUnit: 10.77, color: '#a680c2'},
    {pts: scatterGM12878, fit: fitGM12878, fitEnd: 0.92, left: 436.7, right: 557.3, top: 506.3, bottom: 617.7, x0: 441.7, x1: 557.3, y4: 505.7, yUnit: 11.2, color: '#fcdc7e'}
  ];
  panels.forEach(function (p) {
    const X = function (v) { return p.x0 + v * (p.x1 - p.x0); };
    const Y = function (v) { return p.y4 + (4 - v) * p.yUnit; };
    const frame = make('rect', {x: p.left, y: p.top, width: p.right - p.left, height: p.bottom - p.top, fill: '#fff', stroke: '#aaa', 'stroke-width': 0.9}, host);
    
    
    const topEdge = make('line', {x1: p.left, x2: p.right, y1: p.top, y2: p.top, stroke: '#555', 'stroke-width': 0.8}, host);
    
    
    scatterYTicks.forEach(function (t, i) {
      const tk = make('line', {x1: p.left - 2, x2: p.left, y1: Y(t), y2: Y(t), stroke: '#777', 'stroke-width': 0.6}, host);
      
      
      label(host, p.left - 6, Y(t) + 2.7, scatterYLabels[i], 7.6, 'end');
    });
    scatterXTicks.forEach(function (t, i) {
      const tk = make('line', {x1: X(t), x2: X(t), y1: p.bottom, y2: p.bottom + 2, stroke: '#777', 'stroke-width': 0.6}, host);
      
      
      label(host, X(t), 629, scatterXLabels[i], 7.6);
    });
    for (let i = 0; i < p.pts.length; i += 2) {
      const c = make('circle', {cx: X(p.pts[i]), cy: Y(p.pts[i + 1]), r: 1.15, fill: p.color}, host);
      
      
    }
    const y1 = p.fit[0], y2 = p.fit[1];
    const band = make('polygon', {points: [X(0), Y(y1 + 0.15), X(p.fitEnd), Y(y2 + 0.2), X(p.fitEnd), Y(y2 - 0.2), X(0), Y(y1 - 0.15)].join(' '), fill: '#999', opacity: 0.25}, host);
    
    
    const ln = make('line', {x1: X(0), y1: Y(y1), x2: X(p.fitEnd), y2: Y(y2), stroke: '#666', 'stroke-width': 0.9}, host);
    
    
  });
})();

/* ---------- GSEA panels ---------- */
(function () {
  const host = document.getElementById('gsea');
  const panels = [
    {rk: esRanksK562, es: esValuesK562, metric: metricK562, hits: hitsK562, zeroRank: zeroRankK562, mTicks: metricTicksK562, mLabels: metricLabelsK562, left: 147.7, right: 265, x0: 153.3, perRank: 0.0327, es0: 753.3, esUnit: 90, tickZero: 789.3, tickUnit: 5, zeroText: 'Zero score at 1,724', nes: ['NES: 3.162', 'P value: 0.000e+00', 'FDR: 0.000e+00'], nesX: 159.3, nesY: 739.3, textX: 218},
    {rk: esRanksHepG2, es: esValuesHepG2, metric: metricHepG2, hits: hitsHepG2, zeroRank: zeroRankHepG2, mTicks: metricTicksHepG2, mLabels: metricLabelsHepG2, left: 296.7, right: 413.7, x0: 302, perRank: 0.0331, es0: 751, esUnit: 90, tickZero: 788, tickUnit: 4.25, zeroText: 'Zero score at 1,580', nes: ['NES: 2.905', 'P value: 0.000e+00', 'FDR: 0.000e+00'], nesX: 308, nesY: 738, textX: 374.5},
    {rk: esRanksGM12878, es: esValuesGM12878, metric: metricGM12878, hits: hitsGM12878, zeroRank: zeroRankGM12878, mTicks: metricTicksGM12878, mLabels: metricLabelsGM12878, left: 443.3, right: 560.3, x0: 448.3, perRank: 0.0331, es0: 745, esUnit: 90, tickZero: 785.3, tickUnit: 4.25, zeroText: 'Zero score at 1,812', nes: ['NES: 1.000', 'P value: 1.000e+00', 'FDR: 0.000e+00'], nesX: 455, nesY: 735, textX: 527}
  ];
  const top = 702.3, split = 756, bottom = 810;
  panels.forEach(function (p) {
    const X = function (v) { return p.x0 + v * p.perRank; };
    const ES = function (v) { return p.es0 - v * p.esUnit; };
    const M = function (v) { return 789.5 - v * 5; };
    const T = function (v) { return p.tickZero - v * p.tickUnit; };
    const frame = make('rect', {x: p.left, y: top, width: p.right - p.left, height: bottom - top, fill: '#fff', stroke: '#888', 'stroke-width': 0.8}, host);
    
    
    const esZero = make('line', {x1: p.left, x2: p.right, y1: ES(0), y2: ES(0), stroke: '#ccc', 'stroke-width': 0.7}, host);
    
    
    const pts = p.rk.map(function (r, i) { return [X(r), ES(p.es[i])]; });
    const curve = make('path', {d: smoothPath(pts), fill: 'none', stroke: '#8cc63f', 'stroke-width': 1.1}, host);
    
    
    esTicks.forEach(function (t, i) {
      label(host, p.left - 6.5, ES(t) + 2.8, esTickLabels[i], 7.9, 'end');
      const tk = make('line', {x1: p.left - 2, x2: p.left, y1: ES(t), y2: ES(t), stroke: '#777', 'stroke-width': 0.6}, host);
      
      
    });
    p.nes.forEach(function (s, i) {
      label(host, p.nesX, p.nesY + i * 4.8, s, 3.7, 'start');
    });
    const strip = make('rect', {x: p.left, y: split, width: p.right - p.left, height: 6.7, fill: '#fff', stroke: '#222', 'stroke-width': 0.5}, host);
    
    
    const dark = make('rect', {x: X(0), y: split + 0.3, width: X(3250) - X(0), height: 6.1, fill: 'url(#barcode)'}, host);
    
    
    p.hits.forEach(function (h) {
      const b = make('line', {x1: X(h), x2: X(h), y1: split + 0.3, y2: split + 6.4, stroke: '#fff', 'stroke-width': 0.55, opacity: 0.75}, host);
      
      
    });
    const rankBar = make('rect', {x: p.left, y: 762.7, width: p.right - p.left, height: 7, fill: 'url(#rankbar)'}, host);
    
    
    const scale = 3250 / metricRanks[metricRanks.length - 1];
    const mp = metricRanks.map(function (r, i) { return X(r * scale) + ' ' + M(p.metric[i]); });
    const fillPoly = make('polygon', {points: X(0) + ' ' + M(0) + ' ' + mp.join(' ') + ' ' + X(3250) + ' ' + M(0), fill: '#cdd6e0'}, host);
    
    
    const zl = make('line', {x1: X(p.zeroRank), x2: X(p.zeroRank), y1: 769.7, y2: bottom, stroke: '#ccc', 'stroke-width': 0.6}, host);
    
    
    const zt = label(host, p.textX, 791, p.zeroText, 6.7);
    
    const pos = label(host, X(0) + 1, 775.8, 'Pos', 4.8, 'start');
    pos.setAttribute('style', 'font-size:4.8px;fill:#e33b3b');
    
    const neg = label(host, p.right - 0.5, 807.5, 'Neg', 5, 'end');
    neg.setAttribute('style', 'font-size:5px;fill:#4f6bb0');
    
    p.mTicks.forEach(function (t, i) {
      label(host, p.left - 6.5, T(t) + 2.8, p.mLabels[i], 7.9, 'end');
      const tk = make('line', {x1: p.left - 2, x2: p.left, y1: T(t), y2: T(t), stroke: '#777', 'stroke-width': 0.6}, host);
      
      
    });
    gseaXTicks.forEach(function (t, i) {
      const tk = make('line', {x1: X(t), x2: X(t), y1: bottom, y2: bottom + 2, stroke: '#777', 'stroke-width': 0.6}, host);
      
      
      const lb = label(host, 0, 0, gseaXLabels[i], 8.4, 'end');
      lb.removeAttribute('x');
      lb.removeAttribute('y');
      lb.setAttribute('transform', 'translate(' + (X(t) + 2.5) + ',' + (bottom + 6.5) + ') rotate(-45)');
    });
  });
})();
</script>
</body>
</html>
